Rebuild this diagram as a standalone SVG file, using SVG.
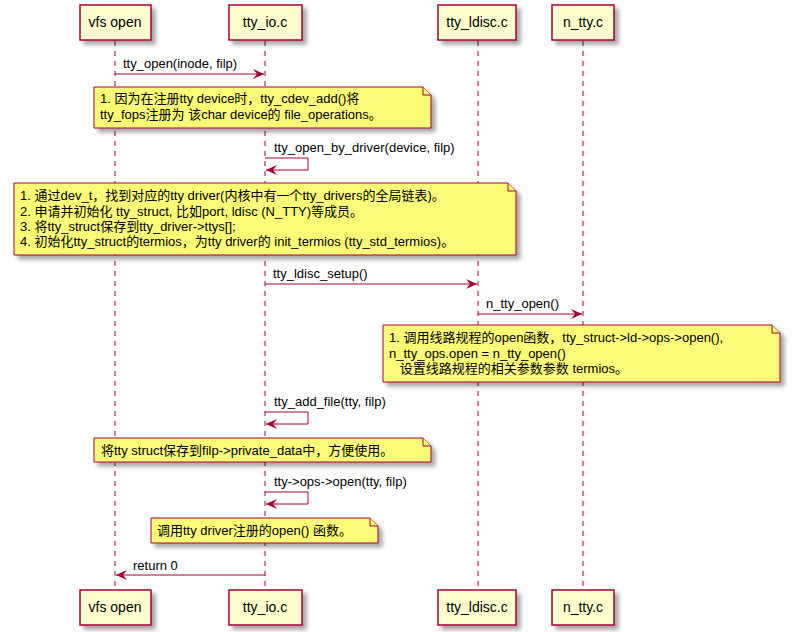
<svg xmlns="http://www.w3.org/2000/svg" width="807" height="632" viewBox="0 0 807 632">
<style>
text{font-family:"Liberation Sans","Noto Sans CJK SC",sans-serif;font-size:13px;fill:#000}
.p{fill:#FEFECE;stroke:#A80036;stroke-width:1.5}
.pt{font-size:14px;text-anchor:middle}
.n{fill:#FBFB77;stroke:#A80036;stroke-width:1}
.ll{stroke:#A80036;stroke-dasharray:5,5;stroke-width:1}
.m{stroke:#A80036;stroke-width:1;fill:none}
</style>
<defs>
<filter id="sh" x="-10%" y="-10%" width="130%" height="140%"><feGaussianBlur in="SourceAlpha" stdDeviation="2"/><feOffset dx="4" dy="4"/><feComponentTransfer><feFuncA type="linear" slope="0.35"/></feComponentTransfer><feMerge><feMergeNode/><feMergeNode in="SourceGraphic"/></feMerge></filter>
<marker id="a" markerWidth="12" markerHeight="10" refX="11" refY="5" orient="auto" markerUnits="userSpaceOnUse"><path d="M0,0 L11,5 L0,10 L4,5 Z" fill="#A80036"/></marker>
</defs>
<g id="lifelines">
<line class="ll" x1="115" y1="41" x2="115" y2="590"/>
<line class="ll" x1="265" y1="41" x2="265" y2="590"/>
<line class="ll" x1="478" y1="41" x2="478" y2="590"/>
<line class="ll" x1="583" y1="41" x2="583" y2="590"/>
</g>
<g id="p-vfs"><rect class="p" x="80" y="5" width="71" height="35" filter="url(#sh)"/><text class="pt" x="115" y="27">vfs open</text>
<rect class="p" x="80" y="590" width="71" height="35" filter="url(#sh)"/><text class="pt" x="115" y="612">vfs open</text></g>
<g id="p-ttyio"><rect class="p" x="229" y="5" width="73" height="35" filter="url(#sh)"/><text class="pt" x="265" y="27">tty_io.c</text>
<rect class="p" x="229" y="590" width="73" height="35" filter="url(#sh)"/><text class="pt" x="265" y="612">tty_io.c</text></g>
<g id="p-ldisc"><rect class="p" x="438" y="5" width="78" height="35" filter="url(#sh)"/><text class="pt" x="477" y="27">tty_ldisc.c</text>
<rect class="p" x="438" y="590" width="78" height="35" filter="url(#sh)"/><text class="pt" x="477" y="612">tty_ldisc.c</text></g>
<g id="p-ntty"><rect class="p" x="552" y="5" width="62" height="35" filter="url(#sh)"/><text class="pt" x="583" y="27">n_tty.c</text>
<rect class="p" x="552" y="590" width="62" height="35" filter="url(#sh)"/><text class="pt" x="583" y="612">n_tty.c</text></g>
<g id="connectors">
<line class="m" x1="115" y1="74" x2="264" y2="74" marker-end="url(#a)"/><text x="123" y="68">tty_open(inode, filp)</text>
<path class="m" d="M265,158 H308 V170 H266" marker-end="url(#a)"/><text x="274" y="152">tty_open_by_driver(device, filp)</text>
<line class="m" x1="265" y1="284" x2="477" y2="284" marker-end="url(#a)"/><text x="273" y="278">tty_ldisc_setup()</text>
<line class="m" x1="478" y1="314" x2="582" y2="314" marker-end="url(#a)"/><text x="486" y="308">n_tty_open()</text>
<path class="m" d="M265,412 H308 V424 H266" marker-end="url(#a)"/><text x="274" y="406">tty_add_file(tty, filp)</text>
<path class="m" d="M265,492 H308 V504 H266" marker-end="url(#a)"/><text x="274" y="486">tty-&gt;ops-&gt;open(tty, filp)</text>
<line class="m" x1="265" y1="575" x2="116" y2="575" marker-end="url(#a)"/><text x="133" y="570">return 0</text>
</g>
<g id="note1"><path class="n" d="M94,87 H423 L431,95 V128 H94 Z" filter="url(#sh)"/><path class="n" d="M423,87 V95 H431"/>
<text x="100" y="103">1. 因为在注册tty device时，tty_cdev_add()将</text><text x="100" y="119">   tty_fops注册为 该char device的 file_operations。</text></g>
<g id="note2"><path class="n" d="M14,183 H508 L516,191 V255 H14 Z" filter="url(#sh)"/><path class="n" d="M508,183 V191 H516"/>
<text x="20" y="200">1. 通过dev_t，找到对应的tty driver(内核中有一个tty_drivers的全局链表)。</text>
<text x="20" y="216">2. 申请并初始化 tty_struct, 比如port, ldisc (N_TTY)等成员。</text>
<text x="20" y="231">3. 将tty_struct保存到tty_driver-&gt;ttys[];</text>
<text x="20" y="246">4. 初始化tty_struct的termios，为tty driver的 init_termios (tty_std_termios)。</text></g>
<g id="note3"><path class="n" d="M383,325 H772 L780,333 V382 H383 Z" filter="url(#sh)"/><path class="n" d="M772,325 V333 H780"/>
<text x="389" y="342">1. 调用线路规程的open函数，tty_struct-&gt;ld-&gt;ops-&gt;open(),</text>
<text x="389" y="358">n_tty_ops.open = n_tty_open()</text>
<text x="389" y="373" xml:space="preserve">   设置线路规程的相关参数参数 termios。</text></g>
<g id="note4"><path class="n" d="M94,438 H423 L431,446 V462 H94 Z" filter="url(#sh)"/><path class="n" d="M423,438 V446 H431"/>
<text x="101" y="455">将tty struct保存到filp-&gt;private_data中，方便使用。</text></g>
<g id="note5"><path class="n" d="M151,518 H370 L378,526 V543 H151 Z" filter="url(#sh)"/><path class="n" d="M370,518 V526 H378"/>
<text x="157" y="535">调用tty driver注册的open() 函数。</text></g>
</svg>
